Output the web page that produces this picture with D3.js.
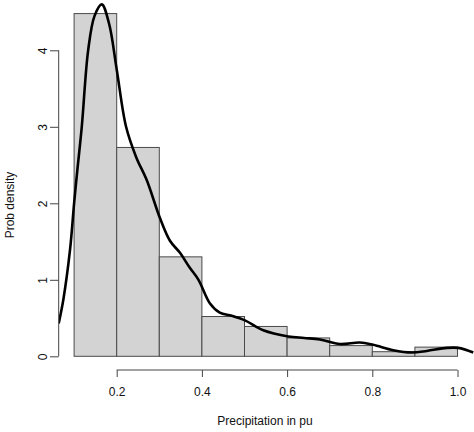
<!DOCTYPE html>
<html>
<head>
<meta charset="utf-8">
<script src="https://cdn.jsdelivr.net/npm/d3@7"></script>
<style>
  html, body { margin: 0; padding: 0; background: #fff; }
  svg { display: block; font-family: "Liberation Sans", Arial, sans-serif; }
</style>
</head>
<body>
<script>
// Histogram bins (Precipitation in pu) and densities
const binStarts = [0.1, 0.2, 0.3, 0.4, 0.5, 0.6, 0.7, 0.8, 0.9];
const binWidth = 0.1;
const binDensity = [4.48, 2.73, 1.30, 0.52, 0.39, 0.24, 0.14, 0.06, 0.12];

// Kernel density curve
const densX = [0.0638, 0.0747, 0.0904, 0.100, 0.107, 0.118, 0.133, 0.148, 0.165, 0.182, 0.200, 0.222, 0.246, 0.270, 0.302, 0.325, 0.349, 0.370, 0.392, 0.419, 0.442, 0.470, 0.501, 0.544, 0.603, 0.640, 0.677, 0.724, 0.771, 0.802, 0.849, 0.893, 0.928, 0.975, 1.002, 1.037];
const densY = [0.43, 0.74, 1.39, 2.0, 2.4, 3.0, 4.0, 4.45, 4.6, 4.35, 3.75, 3.0, 2.6, 2.31, 1.80, 1.51, 1.35, 1.17, 1.0, 0.69, 0.57, 0.53, 0.47, 0.34, 0.26, 0.24, 0.22, 0.16, 0.18, 0.15, 0.08, 0.05, 0.07, 0.11, 0.11, 0.05];

const xTicks = [0.2, 0.4, 0.6, 0.8, 1.0];
const yTicks = [0, 1, 2, 3, 4];
const xTitle = "Precipitation in pu";
const yTitle = "Prob density";

const W = 474, H = 432;
const svg = d3.select("body").append("svg").attr("width", W).attr("height", H);

const x = d3.scaleLinear().domain([0.1, 1.0]).range([74.1, 457.5]);
const y = d3.scaleLinear().domain([0, 4]).range([356.3, 50.3]);

const plotL = 58.7, plotR = 474, plotT = 0, plotB = 370;

svg.append("defs").append("clipPath").attr("id", "clip")
  .append("rect").attr("x", plotL).attr("y", plotT).attr("width", plotR - plotL).attr("height", plotB - plotT);

// Bars
svg.append("g").selectAll("rect")
  .data(binStarts.map((s, i) => ({ s, d: binDensity[i] })))
  .join("rect")
  .attr("x", d => x(d.s))
  .attr("y", d => y(d.d))
  .attr("width", d => x(d.s + binWidth) - x(d.s))
  .attr("height", d => y(0) - y(d.d))
  .attr("fill", "#d3d3d3")
  .attr("stroke", "#4a4a4a")
  .attr("stroke-width", 1);

// Density line
const line = d3.line()
  .x((d, i) => x(densX[i]))
  .y((d, i) => y(densY[i]))
  .curve(d3.curveCatmullRom.alpha(0.5));
svg.append("path")
  .attr("clip-path", "url(#clip)")
  .attr("d", line(densX))
  .attr("fill", "none")
  .attr("stroke", "#000")
  .attr("stroke-width", 2.6)
  .attr("stroke-linejoin", "round");

// X axis
const xAxis = svg.append("g").attr("transform", `translate(0,${plotB})`)
  .call(d3.axisBottom(x).tickValues(xTicks).tickFormat(d3.format(".1f")).tickSize(7).tickPadding(10).tickSizeOuter(0));
xAxis.select(".domain").remove();
xAxis.append("line")
  .attr("x1", x(xTicks[0])).attr("x2", x(xTicks[xTicks.length - 1]))
  .attr("stroke", "#444");
xAxis.selectAll(".tick line").attr("stroke", "#444");
xAxis.selectAll(".tick text").attr("font-size", 12).attr("fill", "#111")
  .attr("font-family", "Liberation Sans, Arial, sans-serif");

// Y axis
const yAxis = svg.append("g").attr("transform", `translate(${plotL},0)`)
  .call(d3.axisLeft(y).tickValues(yTicks).tickFormat(d3.format("d")).tickSize(8.7).tickSizeOuter(0));
yAxis.select(".domain").remove();
yAxis.append("line")
  .attr("y1", y(yTicks[0])).attr("y2", y(yTicks[yTicks.length - 1]))
  .attr("stroke", "#444");
yAxis.selectAll(".tick line").attr("stroke", "#444");
yAxis.selectAll(".tick text")
  .attr("x", null).attr("dy", null)
  .attr("transform", "translate(-15.5,0) rotate(-90)")
  .attr("text-anchor", "middle")
  .attr("dominant-baseline", "central")
  .attr("font-size", 12).attr("fill", "#111")
  .attr("font-family", "Liberation Sans, Arial, sans-serif");

// Titles
svg.append("text")
  .attr("x", 265).attr("y", 425)
  .attr("text-anchor", "middle")
  .attr("font-size", 12).attr("fill", "#111")
  .text(xTitle);
svg.append("text")
  .attr("transform", `translate(14,205) rotate(-90)`)
  .attr("text-anchor", "middle")
  .attr("font-size", 12).attr("fill", "#111")
  .text(yTitle);
</script>
</body>
</html>
